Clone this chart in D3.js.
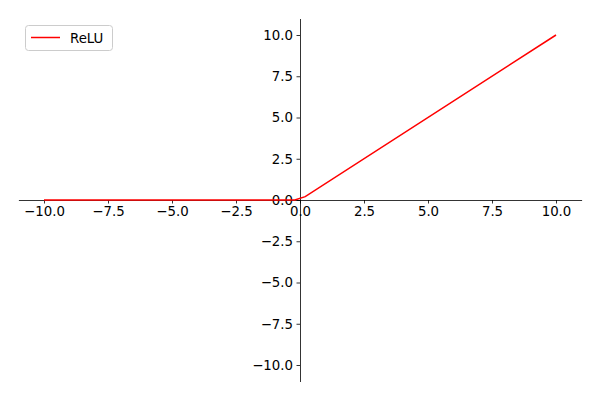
<!DOCTYPE html>
<html><head><meta charset="utf-8">
<script src="https://cdn.jsdelivr.net/npm/d3@7"></script>
<style>body{margin:0;background:#fff}svg{display:block}</style>
</head><body>
<script>
const xs = [-10, -0.204, 0.204, 10];
const ys = [0, 0, 0.204, 10];
const xTicks = [-10, -7.5, -5, -2.5, 0, 2.5, 5, 7.5, 10];
const yTicks = [-10, -7.5, -5, -2.5, 0, 2.5, 5, 7.5, 10];
const seriesName = "ReLU";

const W = 600, H = 400;
const FONT = "'DejaVu Sans', sans-serif";
const svg = d3.select("body").append("svg").attr("width", W).attr("height", H)
  .style("font-family", FONT);
const x = d3.scaleLinear().domain([-11, 11]).range([18.4, 581.6]);
const y = d3.scaleLinear().domain([-11, 11]).range([381.5, 18.5]);
const fmt = d => (d < 0 ? "\u2212" : "") + Math.abs(d).toFixed(1);

const xAxis = svg.append("g").attr("transform", `translate(0,${y(0)})`)
  .call(d3.axisBottom(x).tickValues(xTicks).tickFormat(fmt).tickSizeInner(3.5).tickSizeOuter(0).tickPadding(3.5));
const yAxis = svg.append("g").attr("transform", `translate(${x(0)},0)`)
  .call(d3.axisLeft(y).tickValues(yTicks).tickFormat(fmt).tickSizeInner(3.5).tickSizeOuter(0).tickPadding(3.5));
[xAxis, yAxis].forEach(g => {
  g.attr("font-family", null).attr("font-size", null);
  g.selectAll("text").style("font-family", FONT).style("font-size", "13.33px").attr("fill", "#000");
  g.selectAll("line").attr("stroke", "#000").attr("stroke-width", 0.8);
  g.select(".domain").attr("stroke", "#000").attr("stroke-width", 0.8);
});

const data = xs.map((v, i) => [v, ys[i]]);
svg.append("path").datum(data)
  .attr("fill", "none").attr("stroke", "red").attr("stroke-width", 1.5)
  .attr("d", d3.line().x(d => x(d[0])).y(d => y(d[1])));

const lg = svg.append("g");
lg.append("rect").attr("x", 25.5).attr("y", 25.5).attr("width", 87).attr("height", 25)
  .attr("rx", 3).attr("fill", "#fff").attr("fill-opacity", 0.8).attr("stroke", "#ccc");
lg.append("line").attr("x1", 31).attr("x2", 60).attr("y1", 37.5).attr("y2", 37.5)
  .attr("stroke", "red").attr("stroke-width", 1.5);
lg.append("text").attr("x", 70).attr("y", 42.5).text(seriesName)
  .style("font-family", FONT).style("font-size", "13.33px").attr("fill", "#000");
</script>
</body></html>
